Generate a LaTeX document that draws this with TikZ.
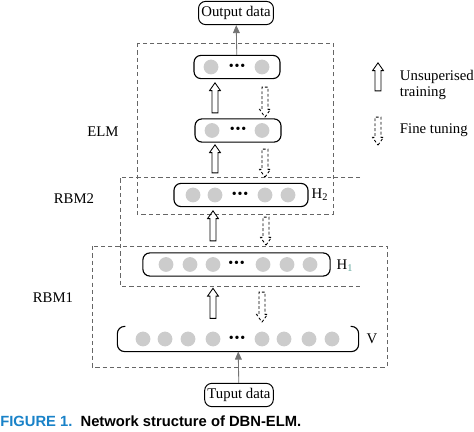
\documentclass[tikz,border=0pt]{standalone}
\usepackage{fontspec}
\setmainfont{Liberation Serif}
\newfontfamily\capfont{Liberation Sans}
\usetikzlibrary{arrows.meta,shapes.arrows}
\definecolor{capblue}{RGB}{25,130,200}
\definecolor{subteal}{RGB}{95,165,155}

\begin{document}
\begin{tikzpicture}[
    x=0.025cm,y=-0.025cm,
    font=\fontsize{10.5}{12}\selectfont,
    layer/.style={draw, rounded corners=5pt, line width=0.8pt, minimum height=0.58cm, inner sep=0pt},
    unit/.style={circle, fill=black!20, minimum size=0.37cm, inner sep=0pt},
    dots/.style={inner sep=0pt, font=\fontsize{10}{10}\selectfont},
    io/.style={draw, rounded corners=5pt, line width=0.7pt, minimum height=0.58cm, inner xsep=2pt, inner ysep=0pt},
    group/.style={draw=black!60, dash pattern=on 3pt off 2.2pt, line width=0.7pt},
    train/.style={single arrow, draw, line width=0.6pt, inner sep=0.065cm,
      single arrow head extend=0.06cm, single arrow tip angle=70, minimum height=0.75cm, rotate=90},
    tune/.style={train, dash pattern=on 2pt off 1.5pt, rotate=180},
    edge/.style={-{Triangle[length=2mm,width=1.7mm]}, draw=black!55, line width=0.6pt}
  ]
    \useasboundingbox (0,0) rectangle (474,432);

    % input / output
    \node[io] (output) at (236,13) {Output data};
    \node[io] (input) at (239,395) {Tuput data};

    % groups
    \draw[group] (137,43) rectangle (333,214);
    \draw[group] (360,177) -- (120,177) -- (120,286) -- (360,286);
    \draw[group] (92,246) rectangle (387,367);
    \node (elm) at (103,132) {ELM};
    \node (rbm2) at (74,199) {RBM2};
    \node (rbm1) at (53,298) {RBM1};

    % layers
    \node[layer, minimum width=2.15cm] (top) at (237,67) {};
    \foreach \u [count=\i] in {211,262} \node[unit] (topu\i) at (\u,67) {};
    \node[dots] (topd) at (237,67) {•\kern0.6pt•\kern0.6pt•};

    \node[layer, minimum width=2.15cm] (mid) at (238,130.5) {};
    \foreach \u [count=\i] in {212,262} \node[unit] (midu\i) at (\u,130.5) {};
    \node[dots] (midd) at (238,130.5) {•\kern0.6pt•\kern0.6pt•};

    \node[layer, minimum width=3.35cm] (hid2) at (241,195) {};
    \foreach \u [count=\i] in {193,215,265,288} \node[unit] (hid2u\i) at (\u,195) {};
    \node[dots] (hid2d) at (240,195) {•\kern0.6pt•\kern0.6pt•};
    \node (h2) at (320,195) {H\textsubscript{2}};

    \node[layer, minimum width=4.68cm] (hid1) at (236.5,264.5) {};
    \foreach \u [count=\i] in {166,190,213,263,287,310} \node[unit] (hid1u\i) at (\u,264.5) {};
    \node[dots] (hid1d) at (236.5,264.5) {•\kern0.6pt•\kern0.6pt•};
    \node (h1) at (345,266) {H\textsubscript{\color{subteal}1}};

    \node[layer, draw=none, minimum width=6cm, minimum height=0.6cm] (vis) at (238,339) {};
    \draw[line width=0.8pt, rounded corners=5pt] ([xshift=0.2cm]vis.north west) -- (vis.north west)
      -- (vis.south west) -- (vis.south east) -- (vis.north east) -- ([xshift=-0.2cm]vis.north east);
    \foreach \u [count=\i] in {143,165,188,213,262,284,309,332} \node[unit] (visu\i) at (\u,339) {};
    \node[dots] (visd) at (237,339) {•\kern0.6pt•\kern0.6pt•};
    \node (v) at (372,339) {V};

    % training / tuning arrows
    \node[train] (tr1) at (215,100) {};
    \node[tune] (ft1) at (265,100) {};
    \node[train, minimum height=0.7cm] (tr2) at (215,161) {};
    \node[tune, minimum height=0.7cm] (ft2) at (265,161) {};
    \node[train] (tr3) at (213,228) {};
    \node[tune, minimum height=0.7cm] (ft3) at (266,229) {};
    \node[train] (tr4) at (213,305.5) {};
    \node[tune] (ft4) at (262,305) {};

    \draw[edge] (top) -- (output);
    \draw[edge] (input) -- (vis);

    % legend
    \node[train, minimum height=0.7cm] (legtrain) at (378,79) {};
    \node[tune, minimum height=0.7cm] (legtune) at (378,129) {};
    \node[anchor=west, align=left] (lbltrain) at (395,85) {Unsuperised\\training};
    \node[anchor=west] (lbltune) at (395,130) {Fine tuning};

    % caption
    \node[anchor=west, inner sep=0pt, font=\capfont\bfseries\fontsize{10.5}{12}\selectfont] (caption) at (0,421)
      {\textcolor{capblue}{FIGURE 1.}\hspace{0.55em}Network structure of DBN-ELM.};
  \end{tikzpicture}
\end{document}
